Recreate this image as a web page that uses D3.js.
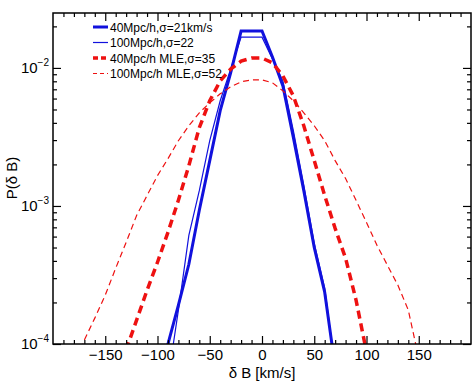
<!DOCTYPE html>
<html><head><meta charset="utf-8">
<script src="https://cdn.jsdelivr.net/npm/d3@7"></script>
<style>
body{margin:0;background:#fff;}
svg{font-family:"Liberation Sans",Arial,Helvetica,sans-serif;}
</style></head>
<body><svg id="c" width="474" height="383"></svg>
<script>
// ---- data ----
const binsBlue = [-100,-90,-80,-70,-60,-50,-40,-30,-20,-10,0,10,20,30,40,50,60,70];
const blue40  = [5.0e-5,1.0e-4,1.91e-4,3.78e-4,9.3e-4,2.13e-3,4.9e-3,9.2e-3,1.85e-2,1.85e-2,1.85e-2,1.2e-2,7.41e-3,3.13e-3,1.29e-3,5.0e-4,2.37e-4,6.8e-5];
const blue100 = [3.0e-5,5.5e-5,1.76e-4,6.12e-4,1.29e-3,2.97e-3,5.78e-3,9.8e-3,1.67e-2,1.67e-2,1.67e-2,1.16e-2,8.05e-3,3.51e-3,1.41e-3,5.36e-4,2.54e-4,6.7e-5];
const binsRed40 = [-130,-120,-110,-100,-90,-80,-70,-60,-50,-40,-30,-20,-10,0,10,20,30,40,50,60,70,80,90,100];
const red40   = [9.06e-5,1.49e-4,2.45e-4,3.91e-4,6.44e-4,1.10e-3,1.96e-3,3.69e-3,5.78e-3,8.05e-3,9.8e-3,1.12e-2,1.18e-2,1.18e-2,1.09e-2,8.75e-3,6.28e-3,3.81e-3,2.13e-3,1.19e-3,6.88e-4,4.18e-4,2.08e-4,8.75e-5];
const binsRed100 = [-180,-170,-160,-150,-140,-130,-120,-110,-100,-90,-80,-70,-60,-50,-40,-30,-20,-10,0,10,20,30,40,50,60,70,80,90,100,110,120,130,140,150];
const red100  = [6.7e-5,1.07e-4,1.54e-4,2.26e-4,3.54e-4,5.45e-4,8.53e-4,1.19e-3,1.66e-3,2.20e-3,2.97e-3,3.81e-3,4.73e-3,5.59e-3,6.49e-3,7.29e-3,7.93e-3,8.19e-3,8.19e-3,7.80e-3,6.82e-3,5.78e-3,4.73e-3,3.81e-3,2.97e-3,2.13e-3,1.58e-3,1.10e-3,7.60e-4,5.19e-4,3.72e-4,2.67e-4,1.76e-4,7.9e-5];
const xTicks = [-150,-100,-50,0,50,100,150];
const yTicks = [1e-4,1e-3,1e-2];
const yTickExp = ["−4","−3","−2"];
const legendLabels = ["40Mpc/h,σ=21km/s","100Mpc/h,σ=22","40Mpc/h MLE,σ=35","100Mpc/h MLE,σ=52"];

// ---- layout ----
const L=53,R=471,T=13,B=344;
const svg=d3.select("#c");
const x=d3.scaleLinear().domain([-200,200]).range([L,R]);
const y=d3.scaleLog().domain([1e-4,0.025]).range([B,T]);

svg.append("clipPath").attr("id","clip").append("rect")
  .attr("x",L).attr("y",T).attr("width",R-L).attr("height",B-T);

const series=[
  {xs:binsBlue,ys:blue40,color:"#1111dd",w:3,dash:null},
  {xs:binsBlue,ys:blue100,color:"#1111dd",w:1.2,dash:null},
  {xs:binsRed40,ys:red40,color:"#ee1111",w:3.5,dash:"8,5"},
  {xs:binsRed100,ys:red100,color:"#ee1111",w:1.2,dash:"6,4"}
];
const line=d3.line().x(d=>x(d[0])).y(d=>y(d[1]));
const g=svg.append("g").attr("clip-path","url(#clip)");
series.forEach(s=>{
  g.append("path").datum(s.xs.map((v,i)=>[v,s.ys[i]]))
   .attr("d",line).attr("fill","none").attr("stroke",s.color)
   .attr("stroke-width",s.w).attr("stroke-dasharray",s.dash)
   .attr("stroke-linejoin","miter");
});

// ---- axes ----
const minorX=d3.range(-190,200,10).filter(v=>v%50!==0);
const minorY=[];
[1e-4,1e-3,1e-2].forEach(b=>{for(let k=2;k<=9;k++){if(b*k<=0.025)minorY.push(b*k);}});
function styleAx(sel){sel.select(".domain").remove();sel.selectAll("line").attr("stroke","#000").attr("stroke-width",1.2);}
// bottom
svg.append("g").attr("transform",`translate(0,${B})`).call(d3.axisBottom(x).tickValues(xTicks).tickSize(-8).tickFormat(d=>d<0?"−"+Math.abs(d):d).tickPadding(5)).call(styleAx)
  .selectAll("text").attr("font-size",15).attr("fill","#000").attr("font-family","Liberation Sans, Arial, sans-serif");
svg.append("g").attr("transform",`translate(0,${B})`).call(d3.axisBottom(x).tickValues(minorX).tickSize(-4).tickFormat("")).call(styleAx);
// top
svg.append("g").attr("transform",`translate(0,${T})`).call(d3.axisTop(x).tickValues(xTicks).tickSize(-8).tickFormat("")).call(styleAx);
svg.append("g").attr("transform",`translate(0,${T})`).call(d3.axisTop(x).tickValues(minorX).tickSize(-4).tickFormat("")).call(styleAx);
// left
svg.append("g").attr("transform",`translate(${L},0)`).call(d3.axisLeft(y).tickValues(yTicks).tickSize(-8).tickFormat("")).call(styleAx);
svg.append("g").attr("transform",`translate(${L},0)`).call(d3.axisLeft(y).tickValues(minorY).tickSize(-4).tickFormat("")).call(styleAx);
// right
svg.append("g").attr("transform",`translate(${R},0)`).call(d3.axisRight(y).tickValues(yTicks).tickSize(-8).tickFormat("")).call(styleAx);
svg.append("g").attr("transform",`translate(${R},0)`).call(d3.axisRight(y).tickValues(minorY).tickSize(-4).tickFormat("")).call(styleAx);
// y tick labels with superscripts
yTicks.forEach((v,i)=>{
  const t=svg.append("text").attr("x",L-4).attr("y",y(v)+5).attr("text-anchor","end")
    .attr("font-size",15).attr("fill","#000");
  t.append("tspan").text("10");
  t.append("tspan").attr("dy",-7).attr("font-size",10).text(yTickExp[i]);
});
// frame
svg.append("rect").attr("x",L).attr("y",T).attr("width",R-L).attr("height",B-T)
  .attr("fill","none").attr("stroke","#000").attr("stroke-width",1.5);

// titles
svg.append("text").attr("x",(L+R)/2).attr("y",378).attr("text-anchor","middle")
  .attr("font-size",15).attr("fill","#000").text("δ B [km/s]");
svg.append("text").attr("transform","translate(17,178) rotate(-90)").attr("text-anchor","middle")
  .attr("font-size",15).attr("fill","#000").text("P(δ B)");

// legend
const lg=svg.append("g");
legendLabels.forEach((lab,i)=>{
  const s=series[i], yy=27+i*15.5;
  lg.append("line").attr("x1",93).attr("x2",108).attr("y1",yy).attr("y2",yy)
    .attr("stroke",s.color).attr("stroke-width",s.w).attr("stroke-dasharray",s.dash?(i===2?"5,3":"4,3"):null);
  lg.append("text").attr("x",110).attr("y",yy+4.5).attr("font-size",12).attr("fill","#000").text(lab);
});
</script></body></html>
